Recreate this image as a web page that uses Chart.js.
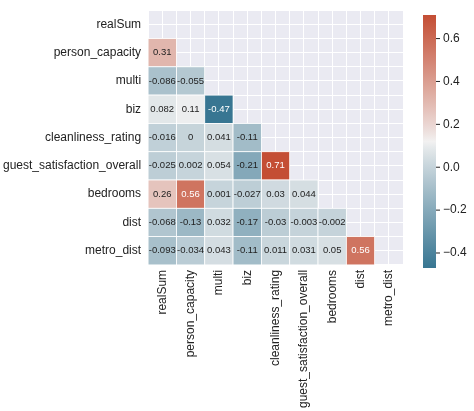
<!DOCTYPE html>
<html><head><meta charset="utf-8">
<script src="https://cdn.jsdelivr.net/npm/chart.js@4"></script>
<style>body{margin:0;background:#fff}#wrap{width:474px;height:411px}</style>
</head><body><div id="wrap"><canvas id="c"></canvas></div>
<script>
const labels = ['realSum','person_capacity','multi','biz','cleanliness_rating','guest_satisfaction_overall','bedrooms','dist','metro_dist']
// lower triangle, row i has i values
const corr = [
  [],
  [0.31],
  [-0.086,-0.055],
  [0.082,0.11,-0.47],
  [-0.016,0,0.041,-0.11],
  [-0.025,0.002,0.054,-0.21,0.71],
  [0.26,0.56,0.001,-0.027,0.03,0.044],
  [-0.068,-0.13,0.032,-0.17,-0.03,-0.003,-0.002],
  [-0.093,-0.034,0.043,-0.11,0.011,0.031,0.05,0.56]
]
const cbTicks = [0.6,0.4,0.2,0.0,-0.2,-0.4]
const vmin = -0.47, vmax = 0.71

const blue = [56,118,146], mid = [242,241,241], red = [196,78,52]
function color(v) {
  const c0 = (vmin + vmax) / 2
  let t = (v - c0) / ((vmax - vmin) / 2)
  t = Math.max(-1, Math.min(1, t))
  const a = Math.pow(Math.abs(t), 0.9)
  const e = t < 0 ? blue : red
  const c = mid.map((m, k) => Math.round(m + (e[k] - m) * a))
  return 'rgb(' + c.join(',') + ')'
}

const points = []
corr.forEach((row, i) => row.forEach((v, j) => points.push({x: j, y: i, v: v})))

const cells = {
  id: 'cells',
  beforeDatasetsDraw(chart) {
    const {ctx, scales: {x, y}} = chart
    ctx.save()
    points.forEach(p => {
      const x0 = x.getPixelForValue(p.x - 0.5), x1 = x.getPixelForValue(p.x + 0.5)
      const y0 = y.getPixelForValue(p.y - 0.5), y1 = y.getPixelForValue(p.y + 0.5)
      ctx.fillStyle = color(p.v)
      ctx.fillRect(x0, y0, x1 - x0, y1 - y0)
      ctx.strokeStyle = '#fff'
      ctx.lineWidth = 0.8
      ctx.strokeRect(x0, y0, x1 - x0, y1 - y0)
      ctx.fillStyle = (p.v > 0.5 || p.v < -0.35) ? '#fff' : '#222'
      ctx.font = '9.5px "Liberation Sans", Arial, sans-serif'
      ctx.textAlign = 'center'
      ctx.textBaseline = 'middle'
      ctx.fillText(String(p.v), (x0 + x1) / 2, (y0 + y1) / 2)
    })
    // colorbar
    const bx = 423, bw = 13, top = 15, bot = 268
    const g = ctx.createLinearGradient(0, top, 0, bot)
    for (let k = 0; k <= 40; k++) {
      const v = vmax - (vmax - vmin) * k / 40
      g.addColorStop(k / 40, color(v))
    }
    ctx.fillStyle = g
    ctx.fillRect(bx, top, bw, bot - top)
    ctx.fillStyle = '#222'
    ctx.strokeStyle = '#222'
    ctx.lineWidth = 1
    ctx.font = '12px "Liberation Sans", Arial, sans-serif'
    ctx.textAlign = 'left'
    cbTicks.forEach(t => {
      const py = top + (vmax - t) / (vmax - vmin) * (bot - top)
      ctx.beginPath(); ctx.moveTo(bx + bw, py); ctx.lineTo(bx + bw + 4, py); ctx.stroke()
      ctx.fillText(t.toFixed(1).replace('-', '\u2212'), bx + bw + 7, py)
    })
    ctx.restore()
  }
}

const tickFont = {family: '"Liberation Sans", Arial, sans-serif', size: 12}
new Chart(document.getElementById('c'), {
  type: 'scatter',
  data: {datasets: [{data: points, pointRadius: 0}]},
  options: {
    animation: false, responsive: true, maintainAspectRatio: false,
    layout: {padding: {right: 71, top: 8}},
    plugins: {legend: {display: false}, tooltip: {enabled: false}},
    scales: {
      x: {
        type: 'linear', min: -0.5, max: 8.5,
        ticks: {stepSize: 0.5, autoSkip: false, minRotation: 90, maxRotation: 90, color: '#222', font: tickFont,
          callback: v => Number.isInteger(v) ? labels[v] : ''},
        grid: {color: '#fff', lineWidth: 1, tickLength: 2, tickColor: 'rgba(0,0,0,0)'},
        border: {display: false}
      },
      y: {
        type: 'linear', min: -0.5, max: 8.5, reverse: true,
        ticks: {stepSize: 0.5, autoSkip: false, color: '#222', font: tickFont,
          callback: v => Number.isInteger(v) ? labels[v] : ''},
        grid: {color: '#fff', lineWidth: 1, tickLength: 4, tickColor: 'rgba(0,0,0,0)'},
        border: {display: false}
      }
    }
  },
  plugins: [cells, {
    id: 'bg',
    beforeDraw(chart) {
      const {ctx, chartArea: a} = chart
      ctx.save(); ctx.fillStyle = '#eaeaf2'; ctx.fillRect(a.left, a.top, a.width, a.height); ctx.restore()
    }
  }]
})
</script></body></html>
